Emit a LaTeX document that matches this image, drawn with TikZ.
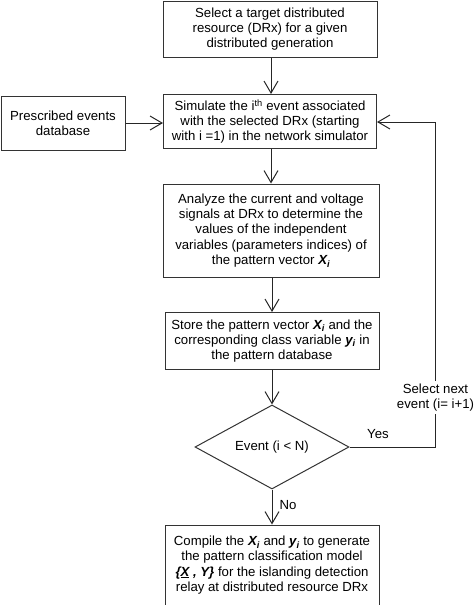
\documentclass[tikz,border=0pt]{standalone}
\usepackage{fontspec}
\setmainfont{Liberation Sans}
\usetikzlibrary{arrows.meta,shapes.geometric}
\newcommand{\bvec}[2]{\textbf{\textit{#1\textsubscript{#2}}}}
\begin{document}
\begin{tikzpicture}[x=1pt,y=-1pt,
  box/.style={draw=black!80, line width=1pt, rectangle, inner sep=0pt, align=center, font=\fontsize{13.2}{15.3}\selectfont},
  dec/.style={draw=black!80, line width=1pt, diamond, aspect=1.83, inner sep=0pt, align=center, font=\fontsize{13.2}{15.3}\selectfont},
  conn/.style={draw=black!85, line width=1pt, -{Straight Barb[length=12pt,width=14pt,line width=1pt]}},
  plain/.style={draw=black!85, line width=1pt},
  lbl/.style={font=\fontsize{13.2}{15.3}\selectfont, align=center, inner sep=1pt}]
\useasboundingbox (0,0) rectangle (474,605);
\node[box, minimum width=214pt, minimum height=56pt] (top) at (270,29) {Select a target distributed\\resource (DRx) for a given\\distributed generation};
\node[box, minimum width=213pt, minimum height=54pt] (sim) at (270,121.5) {Simulate the i\textsuperscript{th} event associated\\with the selected DRx (starting\\with i =1) in the network simulator};
\node[box, minimum width=124pt, minimum height=54pt] (pre) at (63,123) {Prescribed events\\database};
\node[box, minimum width=216pt, minimum height=93pt] (ana) at (271,230.5) {Analyze the current and voltage\\signals at DRx to determine the\\values of the independent\\variables (parameters indices) of\\the pattern vector \bvec{X}{i}};
\node[box, minimum width=214pt, minimum height=57pt] (sto) at (272,341) {Store the pattern vector \bvec{X}{i} and the\\corresponding class variable \bvec{y}{i} in\\the pattern database};
\node[dec, minimum width=154pt, minimum height=84pt] (evt) at (272,447) {Event (i < N)};
\node[box, minimum width=214pt, minimum height=80pt] (cmp) at (272,565) {Compile the \bvec{X}{i} and \bvec{y}{i} to generate\\the pattern classification model\\\textbf{\textit{\{\underline{X} , Y\}}} for the islanding detection\\relay at distributed resource DRx};
\coordinate (c1) at (435,447);
\coordinate (c2) at (435,122);
\draw[conn] (top.south -| 271,0) -- (sim.north -| 271,0);
\draw[conn] (pre.east) -- (sim.west |- pre.east);
\draw[conn] (sim.south -| 271,0) -- (ana.north -| 271,0);
\draw[conn] (ana.south -| 272,0) -- (sto.north -| 272,0);
\draw[conn] (sto.south) -- (evt.north);
\draw[conn] (evt.south) -- (cmp.north) node[lbl, pos=0.45, right=6pt] (no) {No};
\draw[plain] (evt.east) -- (c1) -- (c2);
\draw[conn] (c2) -- (sim.east |- c2);
\node[lbl, fill=white, inner ysep=3pt] (sel) at (435.5,397.5) {Select next\\event (i= i+1)};
\node[lbl] (yes) at (378,434) {Yes};
\end{tikzpicture}
\end{document}
